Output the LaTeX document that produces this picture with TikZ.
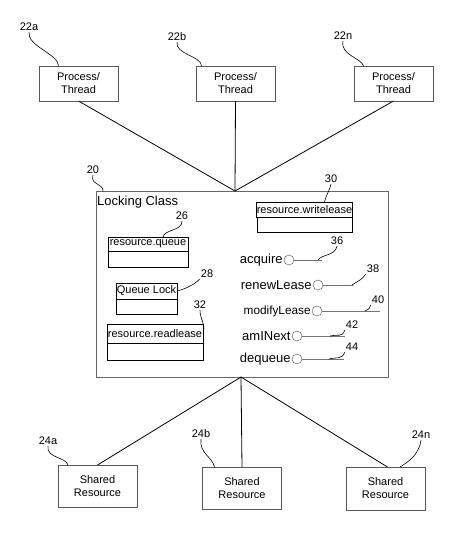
\documentclass[tikz,border=0pt]{standalone}
\usepackage{fontspec}
\setmainfont{Liberation Sans}
\usetikzlibrary{positioning}

\tikzset{
  unitbox/.style={draw=black!65, inner sep=0pt, outer sep=0pt, align=center,
    minimum width=79pt, font=\fontsize{11}{13}\selectfont},
  fieldhead/.style={draw, line width=0.9pt, inner sep=0pt, outer sep=0pt,
    font=\fontsize{11}{13}\selectfont},
  fieldbody/.style={draw, line width=0.9pt, inner sep=0pt, outer sep=0pt},
  refnum/.style={inner sep=1pt, font=\fontsize{11}{13}\selectfont},
  port/.style={circle, draw=black!70, minimum size=10pt, inner sep=0pt},
  method/.style={inner sep=1pt, font=\fontsize{13}{15}\selectfont},
  leader/.style={line width=0.6pt},
  link/.style={line width=0.8pt},
  stub/.style={draw=black!55, line width=0.6pt}
}

\begin{document}
\begin{tikzpicture}[x=1pt, y=-1pt]
  \useasboundingbox (0,0) rectangle (474,533);

  % processes / threads
  \node (p1) [unitbox, minimum height=35pt] at (78.5,83.5) {Process/\\Thread};
  \node (p2) [unitbox, minimum height=35pt, right=78pt of p1] {Process/\\Thread};
  \node (p3) [unitbox, minimum height=35pt, right=79pt of p2] {Process/\\Thread};

  \node (l22a) [refnum] at (29,27) {22a};
  \node (l22b) [refnum] at (177,37) {22b};
  \node (l22n) [refnum] at (343,36) {22n};

  % locking class
  \node (lc) [draw=black!60, minimum width=292pt, minimum height=186pt,
              inner sep=0pt, outer sep=0pt] at (242,284) {};
  \node (lctitle) [method, anchor=west] at (96,202) {Locking Class};
  \node (l20) [refnum] at (93,170) {20};
  \coordinate (hub) at ([xshift=-7pt]lc.north);

  \draw [link] (p1.south) to (hub);
  \draw [link] (p2.south) to (hub);
  \draw [link] (p3.south) to (hub);

  % fields
  \node (wlhead) [fieldhead, minimum width=95pt, minimum height=15pt] at (304.5,209.5) {resource.writelease};
  \node (wlbody) [fieldbody, minimum width=95pt, minimum height=15pt, below=0pt of wlhead] {};
  \node (qhead)  [fieldhead, minimum width=80pt, minimum height=14pt] at (148,244) {resource.queue};
  \node (qbody)  [fieldbody, minimum width=80pt, minimum height=16pt, below=0pt of qhead] {};
  \node (qlhead) [fieldhead, minimum width=61pt, minimum height=16pt] at (146.5,291) {Queue Lock};
  \node (qlbody) [fieldbody, minimum width=61pt, minimum height=15pt, below=0pt of qlhead] {};
  \node (rlhead) [fieldhead, minimum width=96pt, minimum height=19pt] at (155,333.5) {resource.readlease};
  \node (rlbody) [fieldbody, minimum width=96pt, minimum height=17pt, below=0pt of rlhead] {};

  \node (l26) [refnum] at (182,216) {26};
  \node (l28) [refnum] at (207,274) {28};
  \node (l30) [refnum] at (331,179) {30};
  \node (l32) [refnum] at (200,305) {32};

  % methods
  \node (c36) [port] at (289,260) {};
  \node (c38) [port] at (318,285) {};
  \node (c40) [port] at (317,311) {};
  \node (c42) [port] at (297,336) {};
  \node (c44) [port] at (297,359) {};

  \node (acquire)  [method, left=0pt of c36] {acquire};
  \node (renew)    [method, left=0pt of c38] {renewLease};
  \node (modify)   [method, left=0pt of c40, font=\fontsize{11.8}{14}\selectfont] {modifyLease};
  \node (amnext)   [method, left=0pt of c42] {amINext};
  \node (dequeue)  [method, left=0pt of c44] {dequeue};

  \coordinate (e36) at (322,260);
  \coordinate (e38) at (353,285);
  \coordinate (e40) at (380,311);
  \coordinate (e42) at (345,336);
  \coordinate (e44) at (344,359);

  \draw [stub] (c36) to (e36);
  \draw [stub] (c38) to (e38);
  \draw [stub] (c40) to (e40);
  \draw [stub] (c42) to (e42);
  \draw [stub] (c44) to (e44);

  \node (l36) [refnum] at (337,241) {36};
  \node (l38) [refnum] at (373,269) {38};
  \node (l40) [refnum] at (378,300) {40};
  \node (l42) [refnum] at (352,325) {42};
  \node (l44) [refnum] at (352,347) {44};

  % shared resources
  \node (s1) [unitbox, minimum height=42pt] at (97.5,486) {Shared\\Resource};
  \node (s2) [unitbox, minimum height=42pt] at (242,488) {Shared\\Resource};
  \node (s3) [unitbox, minimum height=43pt] at (385.5,488.5) {Shared\\Resource};

  \node (l24a) [refnum] at (48,441) {24a};
  \node (l24b) [refnum] at (201,434) {24b};
  \node (l24n) [refnum] at (421,435) {24n};

  \draw [link] ([xshift=-1pt]lc.south) to (s1.north);
  \draw [link] ([xshift=-1pt]lc.south) to (s2.north);
  \draw [link] ([xshift=-1pt]lc.south) to ([xshift=2pt]s3.north);

  % reference leaders
  \draw [leader] (l22a.south) .. controls +(-2,14) and +(0,-12) .. ([xshift=-20pt]p1.north);
  \draw [leader] (l22b.south) .. controls +(-2,12) and +(0,-10) .. ([xshift=-34pt]p2.north);
  \draw [leader] (l22n.south) .. controls +(-3,14) and +(-2,-8) .. ([xshift=-30pt]p3.north);
  \draw [leader] (l20.south) .. controls +(-3,10) and +(0,-8) .. ([xshift=7pt]lc.north west);
  \draw [leader] (l26.south) .. controls +(0,10) and +(2,-8) .. ([xshift=15pt]qhead.north);
  \draw [leader] (l28.south west) .. controls +(-6,6) and +(8,-2) .. (qlhead.east);
  \draw [leader] (l30.south) .. controls +(-2,8) and +(2,-8) .. ([xshift=20pt]wlhead.north);
  \draw [leader] (l32.south) .. controls +(0,10) and +(3,-10) .. (rlhead.east);
  \draw [leader] (l36.south) .. controls +(-2,10) and +(4,-6) .. ([xshift=-4pt]e36);
  \draw [leader] (l38.south west) .. controls +(-4,6) and +(6,-4) .. ([xshift=-1pt]e38);
  \draw [leader] (l40.south west) .. controls +(-2,6) and +(3,-3) .. ([xshift=-15pt]e40);
  \draw [leader] (l42.south west) .. controls +(-2,8) and +(6,-2) .. ([xshift=-15pt]e42);
  \draw [leader] (l44.south west) .. controls +(-2,8) and +(6,-2) .. ([xshift=-15pt]e44);
  \draw [leader] (l24a.south) .. controls +(-2,12) and +(-2,-8) .. ([xshift=10pt]s1.north west);
  \draw [leader] (l24b.south) .. controls +(-2,14) and +(-2,-10) .. ([xshift=12pt]s2.north west);
  \draw [leader] (l24n.south) .. controls +(-2,16) and +(6,-4) .. ([xshift=-25pt]s3.north east);
\end{tikzpicture}
\end{document}
